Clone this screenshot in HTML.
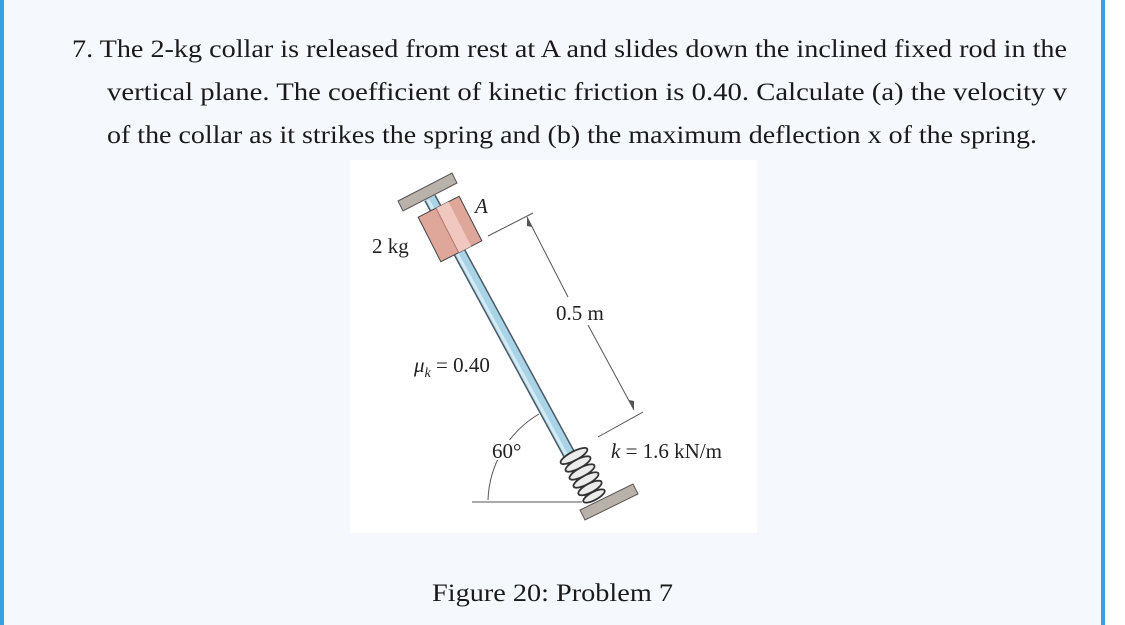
<!DOCTYPE html>
<html><head><style>
html,body{margin:0;padding:0;width:1125px;height:625px;overflow:hidden;background:#fff}
text{font-family:"Liberation Serif",serif}
</style></head><body>
<svg width="1125" height="625" xmlns="http://www.w3.org/2000/svg">
<rect x="0" y="0" width="1104" height="625" fill="#f5f8fc"/>
<rect x="0" y="0" width="4" height="625" fill="#3aa0e6"/>
<rect x="1101" y="0" width="4" height="625" fill="#3aa0e6"/>
<g font-size="25" fill="#1a1a1a">
<text x="72" y="57" textLength="995" lengthAdjust="spacingAndGlyphs">7.  The 2-kg collar is released from rest at A and slides down the inclined fixed rod in the</text>
<text x="107" y="100" textLength="960" lengthAdjust="spacingAndGlyphs">vertical plane.  The coefficient of kinetic friction is 0.40.  Calculate (a) the velocity v</text>
<text x="107" y="143" textLength="930" lengthAdjust="spacingAndGlyphs">of the collar as it strikes the spring and (b) the maximum deflection x of the spring.</text>
<text x="432" y="601" textLength="241" lengthAdjust="spacingAndGlyphs">Figure 20: Problem 7</text>
</g>
<rect x="350" y="160" width="407" height="373" fill="#fff"/>
<!-- top bracket -->
<polygon points="398,201 452,173 457,183 403,211" fill="#b8b2aa" stroke="#555" stroke-width="1"/>
<!-- rod -->
<line x1="430" y1="198" x2="594" y2="500" stroke="#4a5a66" stroke-width="13"/>
<line x1="430" y1="198" x2="594" y2="500" stroke="#a9d3e6" stroke-width="10"/>
<line x1="428" y1="200" x2="592" y2="502" stroke="#d4ebf5" stroke-width="3"/>
<!-- collar -->
<g transform="translate(450,229) rotate(-27)">
<rect x="-23" y="-25" width="46" height="50" fill="#dfa69a" stroke="#444" stroke-width="1"/>
<rect x="-3" y="-25" width="14" height="50" fill="#f0c8bf"/>
<line x1="-3" y1="-25" x2="-3" y2="25" stroke="#b07a70" stroke-width="1"/>
</g>
<!-- spring -->
<g stroke="#333" stroke-width="1.8" fill="#ececec">
<ellipse cx="574" cy="456" rx="15" ry="4.5" transform="rotate(-28 574 456)"/>
<ellipse cx="578" cy="464" rx="14" ry="4.5" transform="rotate(-28 578 464)"/>
<ellipse cx="582" cy="472" rx="14" ry="4.5" transform="rotate(-28 582 472)"/>
<ellipse cx="586" cy="480" rx="14" ry="4.5" transform="rotate(-28 586 480)"/>
<ellipse cx="590" cy="488" rx="13" ry="4.5" transform="rotate(-28 590 488)"/>
<ellipse cx="594" cy="496" rx="12" ry="4" transform="rotate(-28 594 496)"/>
</g>
<!-- bottom bracket -->
<polygon points="580,510 633,484 638,494 585,520" fill="#b8b2aa" stroke="#555" stroke-width="1"/>
<!-- dimension -->
<g stroke="#555" stroke-width="1" fill="none">
<line x1="488" y1="236" x2="533" y2="213"/>
<line x1="598" y1="437" x2="643" y2="412"/>
<line x1="527" y1="217" x2="568" y2="297"/>
<line x1="588" y1="325" x2="634" y2="410"/>
<path d="M488,500 A104 104 0 0 1 539,414"/>
<line x1="472" y1="502" x2="582" y2="502"/>
</g>
<rect x="492" y="440" width="30" height="20" fill="#fff"/>
<polygon points="527,217 532,227 527,226" fill="#555"/>
<polygon points="634,410 629,400 634,401" fill="#555"/>
<g font-size="21" fill="#222">
<text x="372" y="253">2 kg</text>
<text x="475" y="213" font-style="italic">A</text>
<text x="556" y="320">0.5 m</text>
<text x="414" y="372"><tspan font-style="italic">μ</tspan><tspan font-size="14" dy="5" font-style="italic">k</tspan><tspan dy="-5"> = 0.40</tspan></text>
<text x="492" y="458">60°</text>
<text x="611" y="458"><tspan font-style="italic">k</tspan> = 1.6 kN/m</text>
</g>
</svg>
</body></html>
